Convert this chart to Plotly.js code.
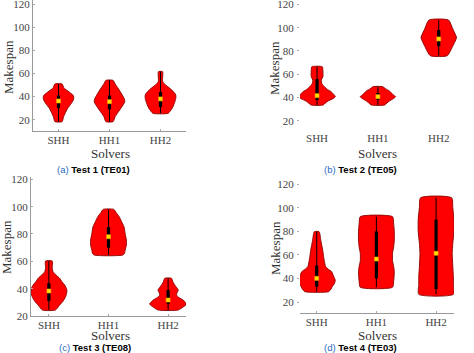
<!DOCTYPE html>
<html><head><meta charset="utf-8">
<script src="https://cdn.plot.ly/plotly-3.0.1.min.js"></script>
<style>html,body{margin:0;padding:0;background:#fff}#chart{width:474px;height:353px}</style>
</head><body><div id="chart"></div>
<script>
// ---- data ----
const solvers = ['SHH', 'HH1', 'HH2'];
const yTicks = [20, 40, 60, 80, 100, 120];
const captions = ['(a)', '(b)', '(c)', '(d)'];
const captionText = ['Test 1 (TE01)', 'Test 2 (TE05)', 'Test 3 (TE08)', 'Test 4 (TE03)'];

// Test 1 (TE01): violin profiles (makespan level, relative half-width)
const te01Levels = [
  [18.3, 22.6, 29.9, 34, 37, 39.5, 41.5, 42.9, 45, 47.2, 50.9],
  [18.3, 22.6, 28.4, 33, 35.6, 38, 41.4, 47.2, 51, 54.1],
  [25.5, 27.5, 29.9, 34, 38.5, 41.4, 43.5, 45.7, 48, 50, 52.5, 53.5, 61.6]
];
const te01Widths = [
  [0.07, 0.10, 0.18, 0.25, 0.29, 0.30, 0.28, 0.24, 0.18, 0.11, 0.07],
  [0.07, 0.11, 0.20, 0.27, 0.30, 0.29, 0.25, 0.17, 0.11, 0.07],
  [0.15, 0.19, 0.23, 0.27, 0.30, 0.30, 0.27, 0.22, 0.16, 0.10, 0.05, 0.04, 0.04]
];
const te01Median = [36.2, 35.6, 38.0];
const te01Q1 = [30, 29, 31];
const te01Q3 = [41, 41, 44];

// Test 2 (TE05)
const te05Levels = [
  [33.7, 35.5, 37.1, 39, 40.8, 42.5, 45.1, 47, 49.4, 52, 55.1, 58, 64, 66.5],
  [33.7, 35.5, 37.1, 39, 40.8, 42.5, 45.7, 47.5, 49.4],
  [76, 83, 90.9, 92, 99, 106.5]
];
const te05Widths = [
  [0.10, 0.14, 0.18, 0.26, 0.30, 0.28, 0.23, 0.17, 0.12, 0.08, 0.07, 0.096, 0.095, 0.087],
  [0.11, 0.15, 0.19, 0.25, 0.29, 0.25, 0.19, 0.13, 0.08],
  [0.14, 0.22, 0.29, 0.29, 0.23, 0.16]
];
const te05Median = [41.7, 40.8, 90.3];
const te05Q1 = [38, 38, 84];
const te05Q3 = [56, 44, 98];

// Test 3 (TE08)
const te08Levels = [
  [24.4, 28, 31, 34.1, 37, 39.5, 42.7, 45, 47.6, 50, 52.4, 55, 60.2],
  [64.6, 66, 68.3, 72, 75.6, 80, 85.3, 89, 92.6, 95.5, 98],
  [24.4, 26.5, 28.8, 30.5, 31.7, 33.5, 35.4, 37, 39, 41, 42.7, 45, 47.6]
];
const te08Widths = [
  [0.11, 0.18, 0.24, 0.28, 0.30, 0.30, 0.265, 0.22, 0.18, 0.12, 0.07, 0.056, 0.056],
  [0.24, 0.27, 0.28, 0.30, 0.30, 0.28, 0.26, 0.22, 0.18, 0.13, 0.09],
  [0.17, 0.25, 0.31, 0.28, 0.25, 0.18, 0.14, 0.15, 0.17, 0.14, 0.11, 0.08, 0.056]
];
const te08Median = [38.3, 78, 31.7];
const te08Q1 = [31, 70, 29];
const te08Q3 = [44, 85, 39];

// Test 4 (TE03)
const te03Levels = [
  [28.8, 31, 33, 36, 38.7, 41, 43.5, 45.8, 48, 50, 57, 64.2, 72, 79.7],
  [32.5, 38, 45.7, 50, 55, 61.4, 67, 72.7, 80, 86, 92.5],
  [26.5, 35, 41.5, 50, 61.4, 70, 80, 90, 100, 108.6]
];
const te03Widths = [
  [0.20, 0.24, 0.26, 0.30, 0.31, 0.29, 0.27, 0.25, 0.19, 0.15, 0.12, 0.10, 0.07, 0.04],
  [0.27, 0.29, 0.30, 0.29, 0.27, 0.27, 0.29, 0.30, 0.30, 0.29, 0.27],
  [0.29, 0.29, 0.29, 0.28, 0.27, 0.28, 0.30, 0.30, 0.28, 0.26]
];
const te03Median = [40.1, 56.5, 61.4];
const te03Q1 = [33, 40, 31];
const te03Q3 = [51, 80, 90];

// ---- build figure ----
const panels = [
  {lv: te01Levels, w: te01Widths, med: te01Median, q1: te01Q1, q3: te01Q3, xa: 'x', ya: 'y'},
  {lv: te05Levels, w: te05Widths, med: te05Median, q1: te05Q1, q3: te05Q3, xa: 'x2', ya: 'y2'},
  {lv: te08Levels, w: te08Widths, med: te08Median, q1: te08Q1, q3: te08Q3, xa: 'x3', ya: 'y3'},
  {lv: te03Levels, w: te03Widths, med: te03Median, q1: te03Q1, q3: te03Q3, xa: 'x4', ya: 'y4'}
];

const traces = [];
panels.forEach(p => {
  solvers.forEach((s, i) => {
    const c = i + 1;
    const lv = p.lv[i], w = p.w[i];
    const xs = [], ys = [];
    for (let k = 0; k < lv.length; k++) { xs.push(c + w[k]); ys.push(lv[k]); }
    for (let k = lv.length - 1; k >= 0; k--) { xs.push(c - w[k]); ys.push(lv[k]); }
    xs.push(xs[0]); ys.push(ys[0]);
    traces.push({type: 'scatter', mode: 'lines', x: xs, y: ys, fill: 'toself',
      fillcolor: '#ff0000', line: {color: '#8a0000', width: 0.9, shape: 'spline', smoothing: 0.6},
      xaxis: p.xa, yaxis: p.ya, hoverinfo: 'skip', showlegend: false});
    traces.push({type: 'scatter', mode: 'lines', x: [c, c], y: [lv[0], lv[lv.length - 1]],
      line: {color: '#000', width: 1}, xaxis: p.xa, yaxis: p.ya, hoverinfo: 'skip', showlegend: false});
    traces.push({type: 'scatter', mode: 'lines', x: [c, c], y: [p.q1[i], p.q3[i]],
      line: {color: '#000', width: 3.2}, xaxis: p.xa, yaxis: p.ya, hoverinfo: 'skip', showlegend: false});
    traces.push({type: 'scatter', mode: 'markers', x: [c], y: [p.med[i]],
      marker: {symbol: 'square', size: 4, color: '#ffe000', line: {color: '#ff9a00', width: 0.6}},
      xaxis: p.xa, yaxis: p.ya, hoverinfo: 'skip', showlegend: false});
  });
});

const W = 474, H = 353;
const SERIF = 'Liberation Serif';
const tickFont = {family: SERIF, size: 11, color: '#444'};
function xAx(l, r, range, anchor, showline) {
  return {domain: [l / W, r / W], range: range, anchor: anchor, tickmode: 'array',
    tickvals: [1, 2, 3], ticktext: solvers, tickfont: tickFont, showgrid: false, zeroline: false,
    showline: showline, linecolor: '#999', linewidth: 1, ticks: 'inside', ticklen: showline ? 2 : 0,
    tickcolor: '#aaa', ticklabelstandoff: -1, ticklabeloverflow: 'allow', fixedrange: true};
}
function yAx(t, b, range, anchor, showline) {
  return {domain: [1 - b / H, 1 - t / H], range: range, anchor: anchor, tickmode: 'array',
    tickvals: yTicks, tickfont: tickFont, showgrid: false, zeroline: false,
    showline: showline, linecolor: '#999', linewidth: 1,
    ticks: showline ? 'inside' : 'outside', ticklen: 2, ticklabelstandoff: showline ? 0 : 1,
    tickcolor: '#aaa', ticklabeloverflow: 'allow', fixedrange: true};
}

const titleFont = {family: SERIF, size: 13, color: '#333'};
const capFont = {family: 'Liberation Sans', size: 9.5, color: '#000'};
const ann = [];
const yTitlePos = [[8, 67], [275, 68], [6, 247], [275, 248]];
const xTitlePos = [[110, 154], [377, 154], [110, 335], [377, 335]];
const capPos = [[93, 169], [360, 169], [95, 347], [360, 347]];
for (let k = 0; k < 4; k++) {
  ann.push({xref: 'paper', yref: 'paper', x: yTitlePos[k][0] / W, y: 1 - yTitlePos[k][1] / H,
    text: 'Makespan', textangle: -90, showarrow: false, font: titleFont, xanchor: 'center', yanchor: 'middle'});
  ann.push({xref: 'paper', yref: 'paper', x: xTitlePos[k][0] / W, y: 1 - xTitlePos[k][1] / H,
    text: 'Solvers', showarrow: false, font: titleFont, xanchor: 'center', yanchor: 'middle'});
  ann.push({xref: 'paper', yref: 'paper', x: capPos[k][0] / W, y: 1 - capPos[k][1] / H,
    text: '<span style="color:#2a6cbf">' + captions[k] + '</span> <b>' + captionText[k] + '</b>',
    showarrow: false, font: capFont, xanchor: 'center', yanchor: 'middle'});
}

const layout = {
  width: W, height: H, margin: {l: 0, r: 0, t: 0, b: 0},
  paper_bgcolor: '#fff', plot_bgcolor: '#fff', showlegend: false,
  xaxis: xAx(33, 186, [0.5, 3.5], 'y', true),
  yaxis: yAx(0, 131, [10.2, 123.7], 'x', true),
  xaxis2: xAx(300, 457, [0.72, 3.3], 'y2', false),
  yaxis2: yAx(0, 131, [11.4, 123.7], 'x2', false),
  xaxis3: xAx(31, 186, [0.7, 3.3], 'y3', true),
  yaxis3: yAx(177, 316, [20, 121.7], 'x3', true),
  xaxis4: xAx(300, 454, [0.72, 3.3], 'y4', true),
  yaxis4: yAx(180, 313, [10.65, 123.65], 'x4', false),
  annotations: ann
};

Plotly.newPlot('chart', traces, layout, {displayModeBar: false, staticPlot: true});
</script></body></html>
